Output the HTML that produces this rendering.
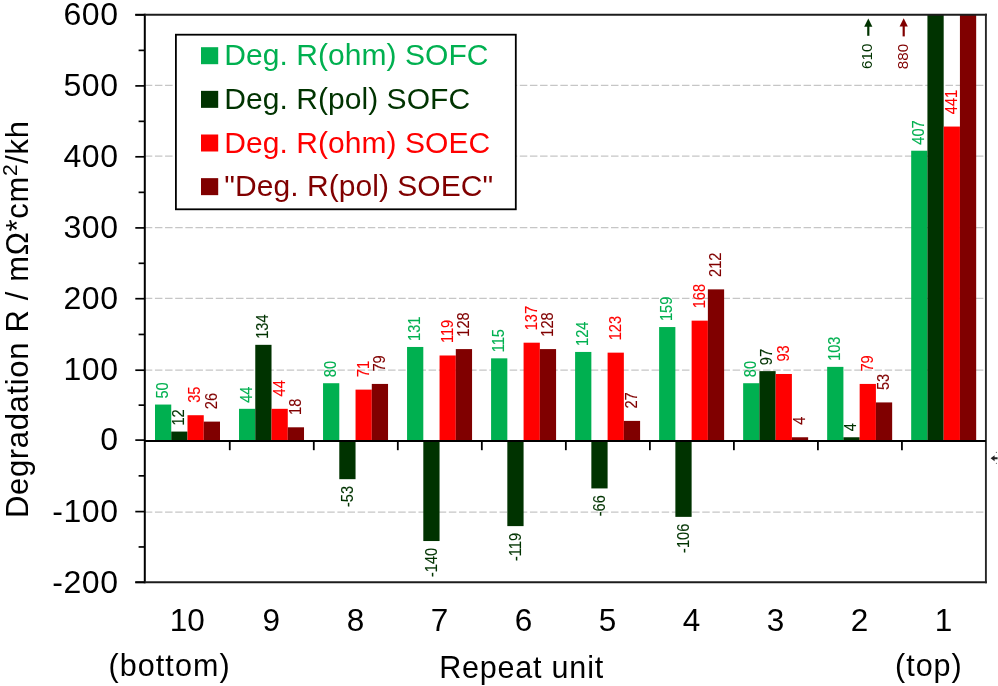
<!DOCTYPE html><html><head><meta charset="utf-8"><title>Degradation chart</title><style>html,body{margin:0;padding:0;background:#fff;overflow:hidden}svg{display:block;filter:blur(0.3px)}text{font-family:"Liberation Sans",Arial,sans-serif}</style></head><body>
<svg width="998" height="686" viewBox="0 0 998 686">
<rect width="998" height="686" fill="#fff"/>
<line x1="144.80" y1="85.40" x2="984.9" y2="85.40" stroke="#C6C6C6" stroke-width="1.3" stroke-dasharray="7.5,2.635"/>
<line x1="144.80" y1="156.20" x2="984.9" y2="156.20" stroke="#C6C6C6" stroke-width="1.3" stroke-dasharray="7.5,2.635"/>
<line x1="144.80" y1="227.60" x2="984.9" y2="227.60" stroke="#C6C6C6" stroke-width="1.3" stroke-dasharray="7.5,2.635"/>
<line x1="144.80" y1="298.40" x2="984.9" y2="298.40" stroke="#C6C6C6" stroke-width="1.3" stroke-dasharray="7.5,2.635"/>
<line x1="144.80" y1="370.10" x2="984.9" y2="370.10" stroke="#C6C6C6" stroke-width="1.3" stroke-dasharray="7.5,2.635"/>
<line x1="144.80" y1="512.20" x2="984.9" y2="512.20" stroke="#C6C6C6" stroke-width="1.3" stroke-dasharray="7.5,2.635"/>
<rect x="155.00" y="404.55" width="16.25" height="36.45" fill="#00B050"/>
<rect x="171.25" y="431.57" width="16.25" height="9.43" fill="#003300"/>
<rect x="187.50" y="415.22" width="16.25" height="25.78" fill="#FF0000"/>
<rect x="203.75" y="421.61" width="16.25" height="19.39" fill="#800000"/>
<rect x="239.02" y="408.82" width="16.25" height="32.18" fill="#00B050"/>
<rect x="255.27" y="344.83" width="16.25" height="96.17" fill="#003300"/>
<rect x="271.52" y="408.82" width="16.25" height="32.18" fill="#FF0000"/>
<rect x="287.77" y="427.30" width="16.25" height="13.70" fill="#800000"/>
<rect x="323.04" y="383.22" width="16.25" height="57.78" fill="#00B050"/>
<rect x="339.29" y="440.00" width="16.25" height="39.18" fill="#003300"/>
<rect x="355.54" y="389.62" width="16.25" height="51.38" fill="#FF0000"/>
<rect x="371.79" y="383.93" width="16.25" height="57.07" fill="#800000"/>
<rect x="407.06" y="346.96" width="16.25" height="94.04" fill="#00B050"/>
<rect x="423.31" y="440.00" width="16.25" height="101.04" fill="#003300"/>
<rect x="439.56" y="355.49" width="16.25" height="85.51" fill="#FF0000"/>
<rect x="455.81" y="349.09" width="16.25" height="91.91" fill="#800000"/>
<rect x="491.08" y="358.34" width="16.25" height="82.66" fill="#00B050"/>
<rect x="507.33" y="440.00" width="16.25" height="86.11" fill="#003300"/>
<rect x="523.58" y="342.69" width="16.25" height="98.31" fill="#FF0000"/>
<rect x="539.83" y="349.09" width="16.25" height="91.91" fill="#800000"/>
<rect x="575.10" y="351.94" width="16.25" height="89.06" fill="#00B050"/>
<rect x="591.35" y="440.00" width="16.25" height="48.43" fill="#003300"/>
<rect x="607.60" y="352.65" width="16.25" height="88.35" fill="#FF0000"/>
<rect x="623.85" y="420.90" width="16.25" height="20.10" fill="#800000"/>
<rect x="659.12" y="327.05" width="16.25" height="113.95" fill="#00B050"/>
<rect x="675.37" y="440.00" width="16.25" height="76.87" fill="#003300"/>
<rect x="691.62" y="320.65" width="16.25" height="120.35" fill="#FF0000"/>
<rect x="707.87" y="289.37" width="16.25" height="151.63" fill="#800000"/>
<rect x="743.14" y="383.22" width="16.25" height="57.78" fill="#00B050"/>
<rect x="759.39" y="371.13" width="16.25" height="69.87" fill="#003300"/>
<rect x="775.64" y="373.98" width="16.25" height="67.02" fill="#FF0000"/>
<rect x="791.89" y="437.26" width="16.25" height="3.74" fill="#800000"/>
<rect x="827.16" y="366.87" width="16.25" height="74.13" fill="#00B050"/>
<rect x="843.41" y="437.26" width="16.25" height="3.74" fill="#003300"/>
<rect x="859.66" y="383.93" width="16.25" height="57.07" fill="#FF0000"/>
<rect x="875.91" y="402.42" width="16.25" height="38.58" fill="#800000"/>
<rect x="911.18" y="150.72" width="16.25" height="290.28" fill="#00B050"/>
<rect x="927.43" y="14.85" width="16.25" height="426.15" fill="#003300"/>
<rect x="943.68" y="126.55" width="16.25" height="314.45" fill="#FF0000"/>
<rect x="959.93" y="14.85" width="16.25" height="426.15" fill="#800000"/>
<line x1="144.8" y1="13.85" x2="144.8" y2="583.3" stroke="#000" stroke-width="2"/>
<line x1="135.3" y1="14.85" x2="986.9" y2="14.85" stroke="#1c1c1c" stroke-width="2"/>
<line x1="135.3" y1="582.3" x2="986.9" y2="582.3" stroke="#1c1c1c" stroke-width="1.9"/>
<line x1="985.9" y1="13.85" x2="985.9" y2="583.3" stroke="#262626" stroke-width="1.9"/>
<line x1="144.8" y1="441.0" x2="985.9" y2="441.0" stroke="#000" stroke-width="2"/>
<line x1="135.3" y1="582.30" x2="144.8" y2="582.30" stroke="#000" stroke-width="1.7"/>
<line x1="138.6" y1="546.95" x2="144.8" y2="546.95" stroke="#000" stroke-width="1.7"/>
<line x1="135.3" y1="511.60" x2="144.8" y2="511.60" stroke="#000" stroke-width="1.7"/>
<line x1="138.6" y1="475.85" x2="144.8" y2="475.85" stroke="#000" stroke-width="1.7"/>
<line x1="135.3" y1="440.10" x2="144.8" y2="440.10" stroke="#000" stroke-width="1.7"/>
<line x1="138.6" y1="405.15" x2="144.8" y2="405.15" stroke="#000" stroke-width="1.7"/>
<line x1="135.3" y1="370.20" x2="144.8" y2="370.20" stroke="#000" stroke-width="1.7"/>
<line x1="138.6" y1="334.45" x2="144.8" y2="334.45" stroke="#000" stroke-width="1.7"/>
<line x1="135.3" y1="298.70" x2="144.8" y2="298.70" stroke="#000" stroke-width="1.7"/>
<line x1="138.6" y1="263.30" x2="144.8" y2="263.30" stroke="#000" stroke-width="1.7"/>
<line x1="135.3" y1="227.90" x2="144.8" y2="227.90" stroke="#000" stroke-width="1.7"/>
<line x1="138.6" y1="192.35" x2="144.8" y2="192.35" stroke="#000" stroke-width="1.7"/>
<line x1="135.3" y1="156.80" x2="144.8" y2="156.80" stroke="#000" stroke-width="1.7"/>
<line x1="138.6" y1="121.35" x2="144.8" y2="121.35" stroke="#000" stroke-width="1.7"/>
<line x1="135.3" y1="85.90" x2="144.8" y2="85.90" stroke="#000" stroke-width="1.7"/>
<line x1="138.6" y1="50.38" x2="144.8" y2="50.38" stroke="#000" stroke-width="1.7"/>
<line x1="135.3" y1="14.85" x2="144.8" y2="14.85" stroke="#000" stroke-width="1.7"/>
<line x1="229.77" y1="441.0" x2="229.77" y2="450.2" stroke="#000" stroke-width="1.8"/>
<line x1="313.79" y1="441.0" x2="313.79" y2="450.2" stroke="#000" stroke-width="1.8"/>
<line x1="397.81" y1="441.0" x2="397.81" y2="450.2" stroke="#000" stroke-width="1.8"/>
<line x1="481.83" y1="441.0" x2="481.83" y2="450.2" stroke="#000" stroke-width="1.8"/>
<line x1="565.85" y1="441.0" x2="565.85" y2="450.2" stroke="#000" stroke-width="1.8"/>
<line x1="649.87" y1="441.0" x2="649.87" y2="450.2" stroke="#000" stroke-width="1.8"/>
<line x1="733.89" y1="441.0" x2="733.89" y2="450.2" stroke="#000" stroke-width="1.8"/>
<line x1="817.91" y1="441.0" x2="817.91" y2="450.2" stroke="#000" stroke-width="1.8"/>
<line x1="901.93" y1="441.0" x2="901.93" y2="450.2" stroke="#000" stroke-width="1.8"/>
<text transform="translate(167.97,398.55) rotate(-90) scale(1,1.07)" font-size="14.6" fill="#00B050" stroke="#00B050" stroke-width="0.1">50</text>
<text transform="translate(184.22,425.57) rotate(-90) scale(1,1.07)" font-size="14.6" fill="#003300" stroke="#003300" stroke-width="0.1">12</text>
<text transform="translate(200.47,402.82) rotate(-90) scale(1,1.07)" font-size="14.6" fill="#FF0000" stroke="#FF0000" stroke-width="0.1">35</text>
<text transform="translate(216.72,409.21) rotate(-90) scale(1,1.07)" font-size="14.6" fill="#800000" stroke="#800000" stroke-width="0.1">26</text>
<text transform="translate(251.99,402.82) rotate(-90) scale(1,1.07)" font-size="14.6" fill="#00B050" stroke="#00B050" stroke-width="0.1">44</text>
<text transform="translate(268.25,338.83) rotate(-90) scale(1,1.07)" font-size="14.6" fill="#003300" stroke="#003300" stroke-width="0.1">134</text>
<text transform="translate(284.50,396.42) rotate(-90) scale(1,1.07)" font-size="14.6" fill="#FF0000" stroke="#FF0000" stroke-width="0.1">44</text>
<text transform="translate(300.75,414.90) rotate(-90) scale(1,1.07)" font-size="14.6" fill="#800000" stroke="#800000" stroke-width="0.1">18</text>
<text transform="translate(336.01,377.22) rotate(-90) scale(1,1.07)" font-size="14.6" fill="#00B050" stroke="#00B050" stroke-width="0.1">80</text>
<text transform="translate(353.31,485.98) rotate(-90) scale(1,1.07)" font-size="14.6" fill="#003300" stroke="#003300" stroke-width="0.1" text-anchor="end">-53</text>
<text transform="translate(368.51,377.22) rotate(-90) scale(1,1.07)" font-size="14.6" fill="#FF0000" stroke="#FF0000" stroke-width="0.1">71</text>
<text transform="translate(384.76,371.53) rotate(-90) scale(1,1.07)" font-size="14.6" fill="#800000" stroke="#800000" stroke-width="0.1">79</text>
<text transform="translate(420.04,340.96) rotate(-90) scale(1,1.07)" font-size="14.6" fill="#00B050" stroke="#00B050" stroke-width="0.1">131</text>
<text transform="translate(437.33,547.84) rotate(-90) scale(1,1.07)" font-size="14.6" fill="#003300" stroke="#003300" stroke-width="0.1" text-anchor="end">-140</text>
<text transform="translate(452.54,343.09) rotate(-90) scale(1,1.07)" font-size="14.6" fill="#FF0000" stroke="#FF0000" stroke-width="0.1">119</text>
<text transform="translate(468.79,336.69) rotate(-90) scale(1,1.07)" font-size="14.6" fill="#800000" stroke="#800000" stroke-width="0.1">128</text>
<text transform="translate(504.06,352.34) rotate(-90) scale(1,1.07)" font-size="14.6" fill="#00B050" stroke="#00B050" stroke-width="0.1">115</text>
<text transform="translate(521.35,532.91) rotate(-90) scale(1,1.07)" font-size="14.6" fill="#003300" stroke="#003300" stroke-width="0.1" text-anchor="end">-119</text>
<text transform="translate(536.55,330.29) rotate(-90) scale(1,1.07)" font-size="14.6" fill="#FF0000" stroke="#FF0000" stroke-width="0.1">137</text>
<text transform="translate(552.80,336.69) rotate(-90) scale(1,1.07)" font-size="14.6" fill="#800000" stroke="#800000" stroke-width="0.1">128</text>
<text transform="translate(588.07,345.94) rotate(-90) scale(1,1.07)" font-size="14.6" fill="#00B050" stroke="#00B050" stroke-width="0.1">124</text>
<text transform="translate(605.37,495.23) rotate(-90) scale(1,1.07)" font-size="14.6" fill="#003300" stroke="#003300" stroke-width="0.1" text-anchor="end">-66</text>
<text transform="translate(620.57,340.25) rotate(-90) scale(1,1.07)" font-size="14.6" fill="#FF0000" stroke="#FF0000" stroke-width="0.1">123</text>
<text transform="translate(636.82,408.50) rotate(-90) scale(1,1.07)" font-size="14.6" fill="#800000" stroke="#800000" stroke-width="0.1">27</text>
<text transform="translate(672.10,321.05) rotate(-90) scale(1,1.07)" font-size="14.6" fill="#00B050" stroke="#00B050" stroke-width="0.1">159</text>
<text transform="translate(689.39,523.67) rotate(-90) scale(1,1.07)" font-size="14.6" fill="#003300" stroke="#003300" stroke-width="0.1" text-anchor="end">-106</text>
<text transform="translate(704.60,308.25) rotate(-90) scale(1,1.07)" font-size="14.6" fill="#FF0000" stroke="#FF0000" stroke-width="0.1">168</text>
<text transform="translate(720.85,276.97) rotate(-90) scale(1,1.07)" font-size="14.6" fill="#800000" stroke="#800000" stroke-width="0.1">212</text>
<text transform="translate(756.12,377.22) rotate(-90) scale(1,1.07)" font-size="14.6" fill="#00B050" stroke="#00B050" stroke-width="0.1">80</text>
<text transform="translate(772.37,365.13) rotate(-90) scale(1,1.07)" font-size="14.6" fill="#003300" stroke="#003300" stroke-width="0.1">97</text>
<text transform="translate(788.62,361.58) rotate(-90) scale(1,1.07)" font-size="14.6" fill="#FF0000" stroke="#FF0000" stroke-width="0.1">93</text>
<text transform="translate(804.87,424.86) rotate(-90) scale(1,1.07)" font-size="14.6" fill="#800000" stroke="#800000" stroke-width="0.1">4</text>
<text transform="translate(840.13,360.87) rotate(-90) scale(1,1.07)" font-size="14.6" fill="#00B050" stroke="#00B050" stroke-width="0.1">103</text>
<text transform="translate(856.38,431.26) rotate(-90) scale(1,1.07)" font-size="14.6" fill="#003300" stroke="#003300" stroke-width="0.1">4</text>
<text transform="translate(872.63,371.53) rotate(-90) scale(1,1.07)" font-size="14.6" fill="#FF0000" stroke="#FF0000" stroke-width="0.1">79</text>
<text transform="translate(888.88,390.02) rotate(-90) scale(1,1.07)" font-size="14.6" fill="#800000" stroke="#800000" stroke-width="0.1">53</text>
<text transform="translate(924.15,144.72) rotate(-90) scale(1,1.07)" font-size="14.6" fill="#00B050" stroke="#00B050" stroke-width="0.1">407</text>
<text transform="translate(956.65,114.15) rotate(-90) scale(1,1.07)" font-size="14.6" fill="#FF0000" stroke="#FF0000" stroke-width="0.1">441</text>
<text x="118.5" y="592.55" font-size="32" letter-spacing="0.55" text-anchor="end" fill="#000">-200</text>
<text x="118.5" y="521.85" font-size="32" letter-spacing="0.55" text-anchor="end" fill="#000">-100</text>
<text x="118.5" y="450.35" font-size="32" letter-spacing="0.55" text-anchor="end" fill="#000">0</text>
<text x="118.5" y="380.45" font-size="32" letter-spacing="0.55" text-anchor="end" fill="#000">100</text>
<text x="118.5" y="308.95" font-size="32" letter-spacing="0.55" text-anchor="end" fill="#000">200</text>
<text x="118.5" y="238.15" font-size="32" letter-spacing="0.55" text-anchor="end" fill="#000">300</text>
<text x="118.5" y="167.05" font-size="32" letter-spacing="0.55" text-anchor="end" fill="#000">400</text>
<text x="118.5" y="96.15" font-size="32" letter-spacing="0.55" text-anchor="end" fill="#000">500</text>
<text x="118.5" y="25.10" font-size="32" letter-spacing="0.55" text-anchor="end" fill="#000">600</text>
<text x="187.36" y="631.4" font-size="31.5" text-anchor="middle" fill="#000">10</text>
<text x="271.38" y="631.4" font-size="31.5" text-anchor="middle" fill="#000">9</text>
<text x="355.40" y="631.4" font-size="31.5" text-anchor="middle" fill="#000">8</text>
<text x="439.42" y="631.4" font-size="31.5" text-anchor="middle" fill="#000">7</text>
<text x="523.44" y="631.4" font-size="31.5" text-anchor="middle" fill="#000">6</text>
<text x="607.46" y="631.4" font-size="31.5" text-anchor="middle" fill="#000">5</text>
<text x="691.48" y="631.4" font-size="31.5" text-anchor="middle" fill="#000">4</text>
<text x="775.50" y="631.4" font-size="31.5" text-anchor="middle" fill="#000">3</text>
<text x="859.52" y="631.4" font-size="31.5" text-anchor="middle" fill="#000">2</text>
<text x="943.54" y="631.4" font-size="31.5" text-anchor="middle" fill="#000">1</text>
<text x="169.6" y="676" font-size="30.5" letter-spacing="1.1" text-anchor="middle" fill="#000">(bottom)</text>
<text x="928.9" y="676" font-size="30.5" letter-spacing="1.0" text-anchor="middle" fill="#000">(top)</text>
<text x="521.6" y="678" font-size="30.5" letter-spacing="0.8" text-anchor="middle" fill="#000">Repeat unit</text>
<text transform="translate(27.8,319.2) rotate(-90)" font-size="31" letter-spacing="0.66" text-anchor="middle" fill="#000">Degradation R / mΩ*cm<tspan font-size="21" dy="-10.5">2</tspan><tspan dy="10.5">/kh</tspan></text>
<rect x="175.9" y="34.7" width="339.9" height="174.6" fill="#fff" stroke="#000" stroke-width="1.8"/>
<rect x="201" y="47.20" width="17.2" height="17" fill="#00B050"/>
<text x="224.3" y="65.30" font-size="30" letter-spacing="0.05" fill="#00B050">Deg. R(ohm) SOFC</text>
<rect x="201" y="90.85" width="17.2" height="17" fill="#003300"/>
<text x="224.3" y="108.95" font-size="30" letter-spacing="0.05" fill="#003300">Deg. R(pol) SOFC</text>
<rect x="201" y="134.50" width="17.2" height="17" fill="#FF0000"/>
<text x="224.3" y="152.60" font-size="30" letter-spacing="0.05" fill="#FF0000">Deg. R(ohm) SOEC</text>
<rect x="201" y="178.15" width="17.2" height="17" fill="#800000"/>
<text x="224.3" y="196.25" font-size="30" letter-spacing="0.05" fill="#800000">"Deg. R(pol) SOEC"</text>
<text transform="translate(871.5,43.6) rotate(-90)" font-size="15.2" fill="#003300" text-anchor="end">610</text>
<text transform="translate(907.6,43.8) rotate(-90)" font-size="15.2" fill="#800000" text-anchor="end">880</text>
<line x1="868.3" y1="35.8" x2="868.3" y2="24.6" stroke="#003300" stroke-width="2.2"/><polygon points="864.1999999999999,26.8 868.3,18.6 872.4,26.8" fill="#003300"/>
<line x1="903.7" y1="36.4" x2="903.7" y2="24.2" stroke="#800000" stroke-width="2.2"/><polygon points="899.6,26.4 903.7,18.2 907.8000000000001,26.4" fill="#800000"/>
<path d="M990.6,458.2 l4,-3 v2 h3 v2 h-3 v2 z" fill="#222"/><circle cx="996.4" cy="452.4" r="0.6" fill="#666"/><circle cx="996.4" cy="463.3" r="0.6" fill="#666"/>
</svg></body></html>
